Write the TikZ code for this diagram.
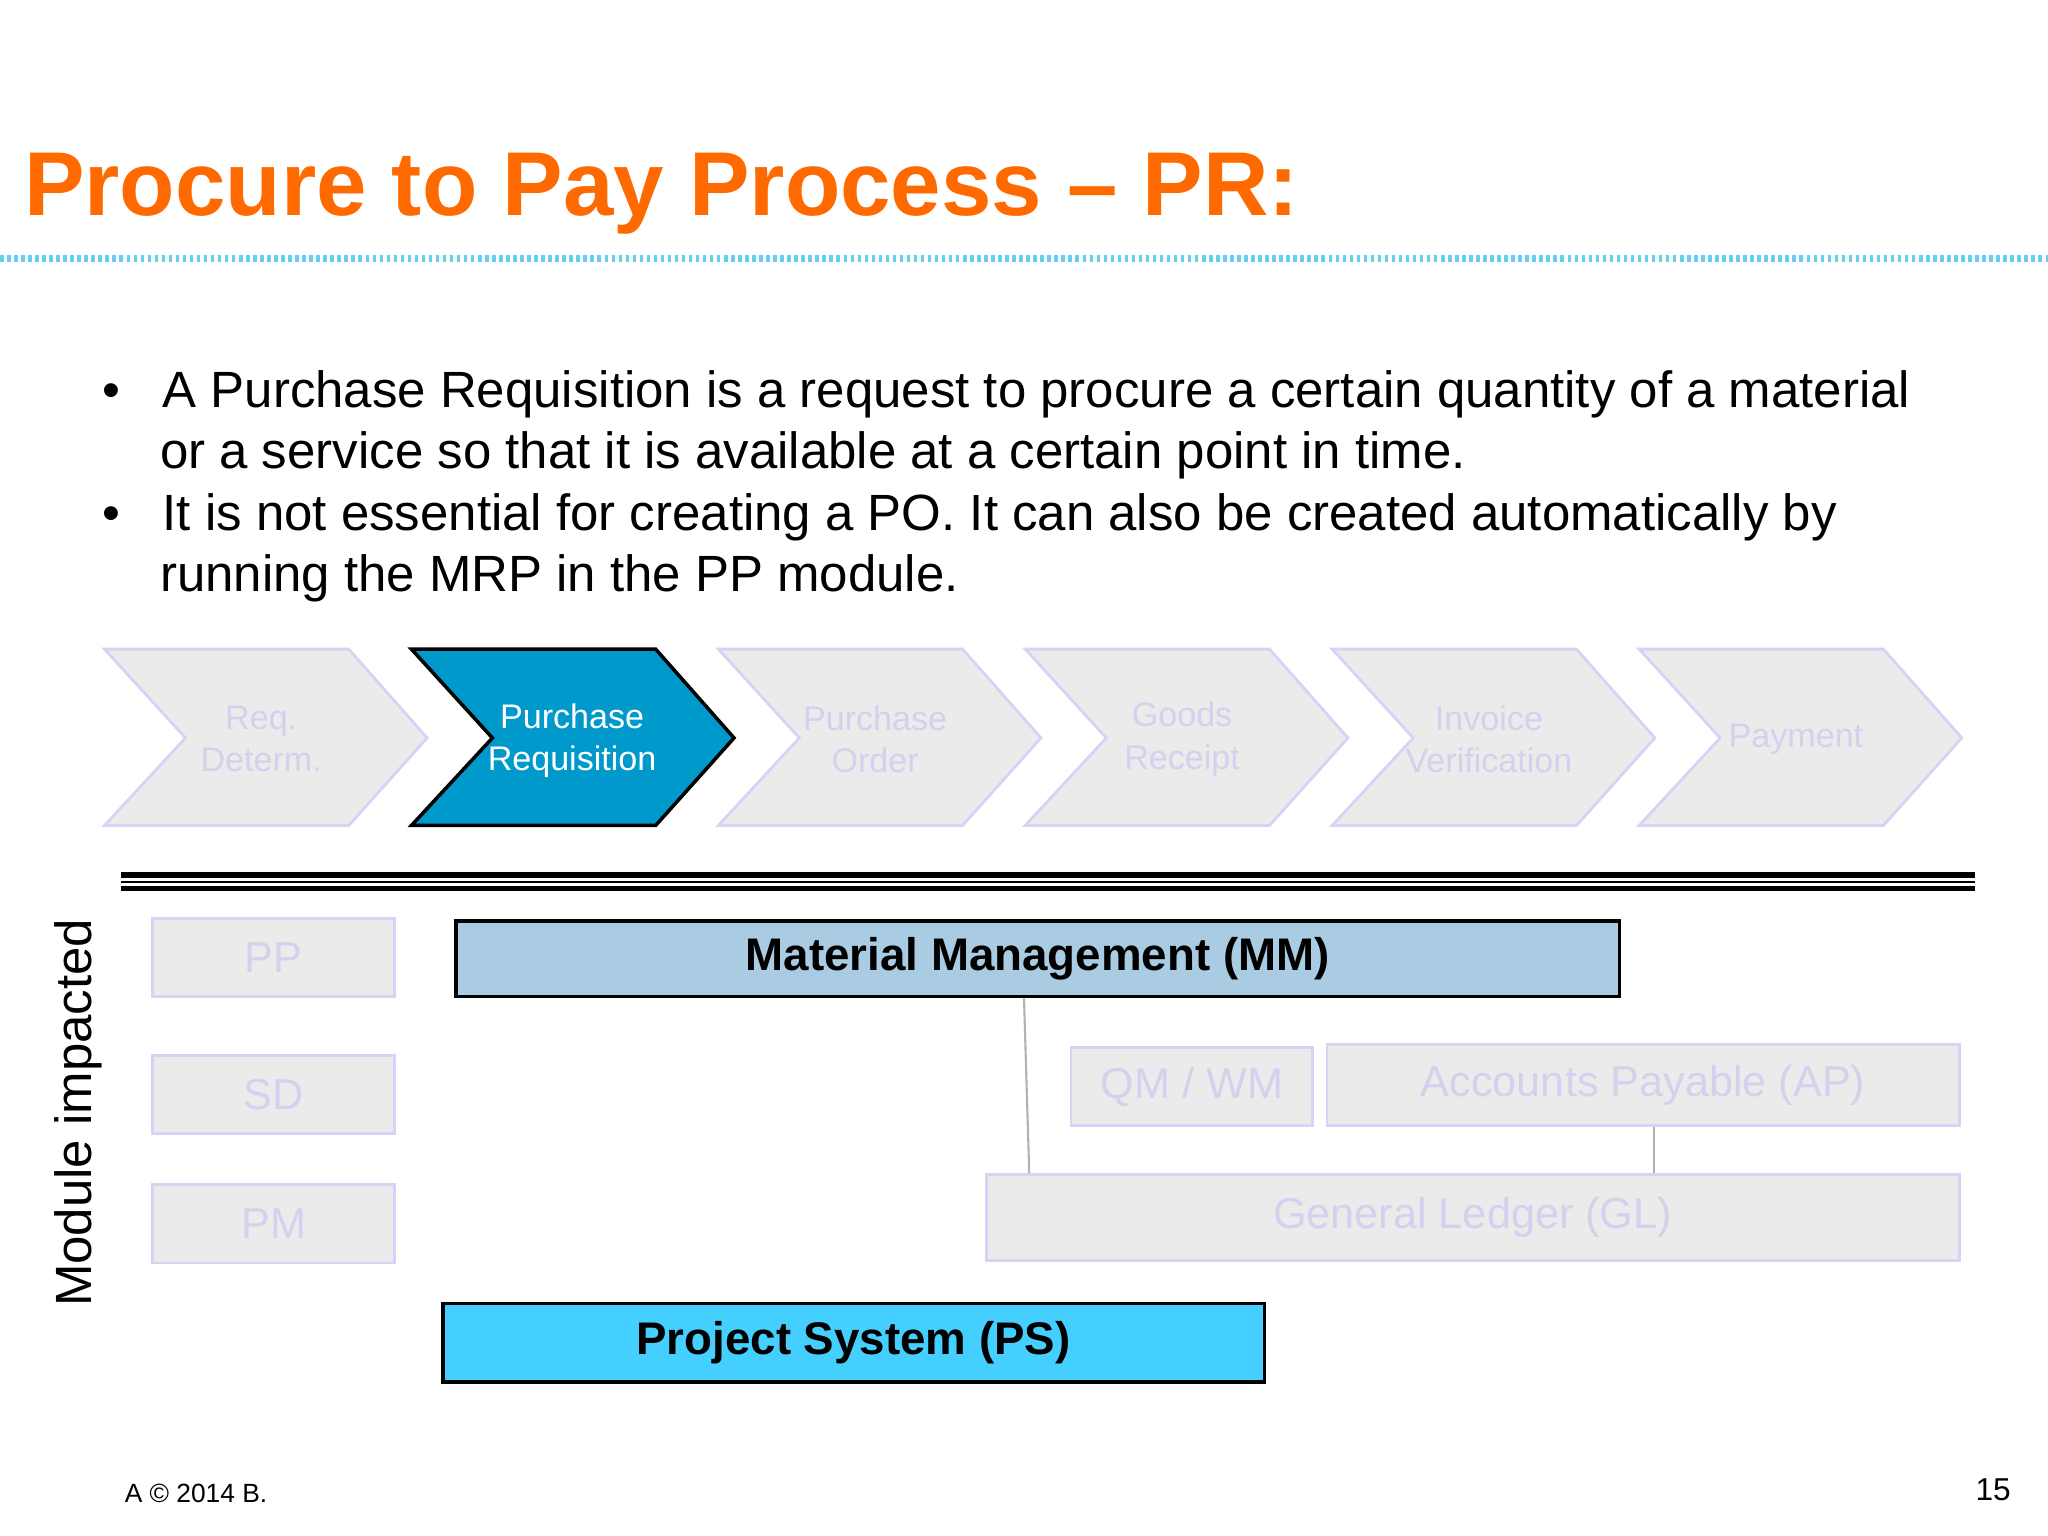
\documentclass[tikz,border=0pt]{standalone}
\usepackage{fontspec}
\setmainfont{Liberation Sans}
\begin{document}
\begin{tikzpicture}[x=0.013061cm,y=-0.013061cm,
  gbox/.style={draw=lav,fill=gfill,line width=0.8pt,font=\fontsize{12.3}{14}\selectfont,text=gtext},
  conn/.style={draw=gray!60,line width=0.6pt}]
\definecolor{lav}{HTML}{D4D4F4}
\definecolor{gfill}{HTML}{EBEBEB}
\definecolor{gtext}{HTML}{D2D2EE}
\definecolor{orng}{HTML}{FF6A00}
\definecolor{blu}{HTML}{0099CC}
\definecolor{mmfill}{HTML}{A9CCE3}
\definecolor{psfill}{HTML}{45CFFF}
\useasboundingbox[fill=white] (0,0) rectangle (1568,1176);
\node[anchor=base west,text=orng,font=\fontsize{25.8}{29}\selectfont\bfseries,inner sep=0] (title) at (18,165) {Procure to Pay Process -- PR:};
\draw[cyan!60,line width=2pt,dash pattern=on 1pt off 1pt] (0,198) -- (1568,198);
\node[anchor=base west,font=\fontsize{14.5}{17}\selectfont,inner sep=0] (b1) at (78,312) {•};
\node[anchor=base west,font=\fontsize{14.5}{17}\selectfont,inner sep=0] (t1) at (124,312) {A Purchase Requisition is a request to procure a certain quantity of a material};
\node[anchor=base west,font=\fontsize{14.5}{17}\selectfont,inner sep=0] (t2) at (122,359) {or a service so that it is available at a certain point in time.};
\node[anchor=base west,font=\fontsize{14.5}{17}\selectfont,inner sep=0] (b2) at (78,406) {•};
\node[anchor=base west,font=\fontsize{14.5}{17}\selectfont,inner sep=0] (t3) at (124,406) {It is not essential for creating a PO. It can also be created automatically by};
\node[anchor=base west,font=\fontsize{14.5}{17}\selectfont,inner sep=0] (t4) at (122,453) {running the MRP in the PP module.};
\foreach \i/\txt in {0/{Req.\\Determ.},2/{Purchase\\Order},3/{Goods\\Receipt},4/{Invoice\\Verification},5/{Payment}}{
  \pgfmathsetmacro\xo{80+235*\i}
  \draw[draw=lav,fill=gfill,line width=0.8pt] (\xo,497) -- ++(187,0) -- ++(60,68) -- ++(-60,67) -- ++(-187,0) -- ++(62,-67) -- cycle;
  \node[align=center,text=gtext,font=\fontsize{9.7}{12}\selectfont] (c\i) at (\xo+120,566) {\txt};
}
\draw[draw=black,fill=blu,line width=1pt] (315,497) -- ++(187,0) -- ++(60,68) -- ++(-60,67) -- ++(-187,0) -- ++(62,-67) -- cycle;
\node[align=center,text=white,font=\fontsize{9.7}{12}\selectfont] (c1) at (438,567) {Purchase\\Requisition};
\draw[line width=1.5pt] (93,670) -- (1512,670);
\draw[line width=0.6pt] (93,675.5) -- (1512,675.5);
\draw[line width=1.5pt] (93,680) -- (1512,680);
\node[gbox,minimum width=185*0.013061cm,minimum height=60*0.013061cm] (pp) at (209.5,733) {PP};
\node[gbox,minimum width=185*0.013061cm,minimum height=60*0.013061cm] (sd) at (209.5,838) {SD};
\node[gbox,minimum width=185*0.013061cm,minimum height=60*0.013061cm] (pm) at (209.5,937) {PM};
\node[gbox,minimum width=185*0.013061cm,minimum height=60*0.013061cm] (qm) at (912.5,832) {QM / WM};
\node[gbox,minimum width=484*0.013061cm,minimum height=62*0.013061cm] (ap) at (1258,831) {Accounts Payable (AP)};
\node[gbox,minimum width=745*0.013061cm,minimum height=66*0.013061cm] (gl) at (1127.5,932) {General Ledger (GL)};
\node[draw=black,fill=mmfill,line width=1pt,minimum width=891*0.013061cm,minimum height=58*0.013061cm,font=\fontsize{13}{15}\selectfont\bfseries] (mm) at (794.5,734) {\raisebox{-2pt}{Material Management (MM)}};
\node[draw=black,fill=psfill,line width=1pt,minimum width=629*0.013061cm,minimum height=60*0.013061cm,font=\fontsize{13}{15}\selectfont\bfseries] (ps) at (653.5,1028) {\raisebox{-2pt}{Project System (PS)}};
\draw[conn] (mm.south -| 784,0) -- (gl.north -| 788,0);
\draw[conn] (ap.south -| 1266,0) -- (gl.north -| 1266,0);
\node[rotate=90,font=\fontsize{14.5}{17}\selectfont] (mi) at (60,852) {Module impacted};
\node[anchor=base west,inner sep=0,font=\fontsize{7.5}{9}\selectfont] (ft) at (95,1150) {A © 2014 B.};
\node[anchor=base east,inner sep=0,font=\fontsize{9}{11}\selectfont] (pg) at (1540,1149) {15};
\end{tikzpicture}
\end{document}
